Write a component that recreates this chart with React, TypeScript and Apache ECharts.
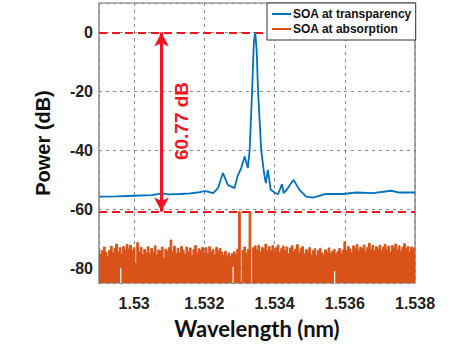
import React, { useEffect, useRef } from "react";
import * as echarts from "echarts";

// SOA at transparency (blue): wavelength (nm) / power (dB)
const transWl = [
  1.529, 1.5295, 1.53, 1.5305, 1.5308, 1.531, 1.5313, 1.5316, 1.5318, 1.53201,
  1.5321, 1.53225, 1.53239, 1.53253, 1.53267, 1.53286, 1.53294, 1.53305, 1.53315,
  1.53324, 1.53329, 1.53336, 1.53341, 1.53345, 1.53349, 1.53353, 1.53362,
  1.5337, 1.53375, 1.53381, 1.53389, 1.534, 1.5341, 1.53421, 1.53426, 1.53438,
  1.53454, 1.53471, 1.5349, 1.53509, 1.53547, 1.53595, 1.53633, 1.5368,
  1.53732, 1.53756, 1.538,
];
const transPower = [
  -55.7, -55.6, -55.4, -55.2, -54.6, -54.9, -54.8, -54.6, -54.3, -53.8,
  -54.0, -54.5, -52.8, -47.7, -51.7, -52.8, -48.9, -46.0, -42.1,
  -46.0, -40, -20, -3.5, 0, -6, -20, -40,
  -47.6, -51.1, -46.6, -53.4, -54.3, -54.9, -51.5, -54.5, -52.8,
  -50.0, -53.4, -55.7, -56.0, -54.8, -54.8, -54.3, -54.5,
  -53.7, -54.3, -54.3,
];

// SOA at absorption (orange): sampled every 0.00005 nm from 1.529 nm
const absStartWl = 1.529;
const absStepWl = 0.00005;
const absPower = [
  -73.5, -75.2, -74.0, -72.8, -74.6, -75.8, -73.9, -72.5, -74.8, -73.2,
  -71.8, -74.5, -73.0, -75.1, -72.6, -73.8, -71.9, -73.4, -72.2, -74.0,
  -73.0, -78.2, -71.3, -74.4, -72.9, -75.3, -73.6, -74.8, -72.7, -75.0,
  -73.3, -74.6, -72.4, -75.5, -73.8, -74.1, -72.8, -76.5, -73.5, -74.2,
  -73.0, -70.4, -74.3, -72.5, -75.0, -73.2, -74.7, -72.6, -73.9, -75.2,
  -72.8, -74.4, -73.1, -75.6, -73.7, -72.3, -74.9, -73.4, -74.1, -72.9,
  -74.6, -73.0, -75.1, -72.7, -74.3, -73.6, -75.4, -72.9, -74.0, -73.3,
  -74.5, -75.6, -74.2, -75.9, -74.8, -76.0, -75.1, -74.4, -75.3, -73.5,
  -60.8, -85.0, -74.0, -72.8, -74.9, -73.6, -60.8, -85.0, -73.0, -72.4,
  -73.8, -72.2, -74.5, -72.9, -73.4, -71.8, -74.1, -72.6, -73.9, -72.3,
  -74.2, -73.0, -72.1, -74.7, -73.3, -72.5, -74.0, -72.8, -75.0, -73.1,
  -72.4, -74.3, -73.5, -72.0, -74.6, -73.2, -72.7, -75.1, -73.6, -74.2,
  -73.0, -75.3, -74.1, -73.4, -75.6, -74.0, -73.2, -74.8, -75.4, -73.7,
  -74.5, -73.1, -75.0, -74.2, -73.6, -75.2, -74.4, -73.3, -74.9, -73.8,
  -71.0, -74.0, -72.6, -73.5, -74.7, -72.4, -73.2, -72.0, -74.1, -72.8,
  -73.4, -72.1, -74.3, -72.9, -71.5, -73.6, -72.3, -74.0, -72.7, -73.5,
  -72.2, -74.1, -72.8, -71.9, -73.7, -72.5, -74.4, -72.3, -73.0, -71.8,
  -73.6, -72.4, -74.2, -72.9, -71.7, -73.3, -72.6, -74.5, -72.8, -73.4, -73.0,
];
// thin white gaps at the bottom of the absorption trace
const gapWl = [1.52962, 1.53282, 1.53571];
const gapTop = [-80.0, -79.5, -81.0];

const peakLevel = 0;
const floorLevel = -60.77;
const arrowWl = 1.53078;
const yMin = -85;
const yMax = 10;
const xMin = 1.529;
const xMax = 1.538;

const BLUE = "#0072BD";
const ORANGE = "#D95319";
const RED = "#F0141E";

export default function App() {
  const ref = useRef<HTMLDivElement>(null);
  useEffect(() => {
    if (!ref.current) return;
    const chart = echarts.init(ref.current, undefined, { renderer: "svg" });
    const absData = absPower.map((v, i) => [absStartWl + i * absStepWl, v]);
    const transData = transWl.map((w, i) => [w, transPower[i]]);
    const gapSeries = gapWl.map((w, i) => ({
      type: "line",
      name: "gap" + i,
      data: [
        [w, yMin],
        [w, gapTop[i]],
      ],
      symbol: "none",
      lineStyle: { color: "#ffffff", width: 1.2 },
      z: 3,
      silent: true,
    }));
    const axisFont = {
      fontFamily: "'Liberation Sans', Arial, sans-serif",
      fontWeight: "bold" as const,
      color: "#222",
    };
    chart.setOption({
      animation: false,
      backgroundColor: "#ffffff",
      grid: {
        left: 99,
        top: 3,
        right: 59,
        bottom: 75,
        show: true,
        borderColor: "#707070",
        borderWidth: 1.2,
        backgroundColor: "transparent",
      },
      xAxis: {
        type: "value",
        min: xMin,
        max: xMax,
        splitNumber: 5,
        name: "Wavelength (nm)",
        nameLocation: "middle",
        nameGap: 34,
        nameTextStyle: {
          fontFamily: "Lato, 'Open Sans', sans-serif",
          fontWeight: "bold",
          fontSize: 22,
          color: "#111",
        },
        axisLine: { show: false },
        axisTick: { show: false },
        axisLabel: {
          ...axisFont,
          fontSize: 16,
          margin: 12,
          showMinLabel: false,
          formatter: (v: number) => String(parseFloat(v.toFixed(4))),
        },
        splitLine: {
          show: true,
          lineStyle: { color: "#8a8a8a", width: 1, type: [3, 4] },
        },
      },
      yAxis: {
        type: "value",
        min: yMin,
        max: yMax,
        splitNumber: 5,
        name: "Power (dB)",
        nameLocation: "middle",
        nameGap: 46,
        nameTextStyle: { ...axisFont, fontSize: 20, color: "#111" },
        axisLine: { show: false },
        axisTick: { show: false },
        axisLabel: {
          ...axisFont,
          fontSize: 16,
          margin: 6,
          showMinLabel: false,
          showMaxLabel: false,
        },
        splitLine: {
          show: true,
          lineStyle: { color: "#8a8a8a", width: 1, type: [3, 4] },
        },
      },
      legend: {
        orient: "vertical",
        left: 267,
        top: 3,
        z: 20,
        padding: [4, 4, 4, 5],
        itemGap: 1,
        itemWidth: 19,
        itemHeight: 2,
        icon: "rect",
        backgroundColor: "#ffffff",
        borderColor: "#333",
        borderWidth: 1,
        borderRadius: 0,
        data: ["SOA at transparency", "SOA at absorption"],
        textStyle: {
          fontFamily: "'Liberation Sans', Arial, sans-serif",
          fontWeight: "bold",
          fontSize: 12,
          lineHeight: 14,
          color: "#111",
          padding: [0, 0, 0, -3],
        },
      },
      series: [
        {
          type: "line",
          name: "SOA at absorption",
          data: absData,
          step: "middle",
          symbol: "none",
          lineStyle: { color: ORANGE, width: 1 },
          itemStyle: { color: ORANGE },
          areaStyle: { color: ORANGE, opacity: 1, origin: "start" },
          z: 2,
        },
        ...gapSeries,
        {
          type: "line",
          name: "SOA at transparency",
          data: transData,
          symbol: "none",
          lineStyle: { color: BLUE, width: 1.8 },
          itemStyle: { color: BLUE },
          z: 3,
          markLine: {
            silent: true,
            symbol: "none",
            animation: false,
            label: { show: false },
            lineStyle: { color: RED, width: 2, type: [8, 5] },
            data: [
              { yAxis: peakLevel },
              { yAxis: floorLevel },
              [
                {
                  coord: [arrowWl, peakLevel],
                  symbol: "arrow",
                  symbolSize: [11, 14],
                  lineStyle: { color: RED, width: 3, type: "solid" },
                },
                { coord: [arrowWl, floorLevel], symbol: "arrow", symbolSize: [11, 14] },
              ],
            ],
          },
        },
      ],
      graphic: [
        {
          type: "text",
          x: 181,
          y: 121,
          rotation: Math.PI / 2,
          z: 10,
          style: {
            text: "60.77 dB",
            fill: RED,
            font: "bold 19px 'Liberation Sans', Arial, sans-serif",
            align: "center",
            verticalAlign: "middle",
          },
        },
      ],
    });
    return () => chart.dispose();
  }, []);
  return (
    <div
      ref={ref}
      style={{ position: "fixed", left: 0, top: 0, width: 474, height: 358 }}
    />
  );
}
